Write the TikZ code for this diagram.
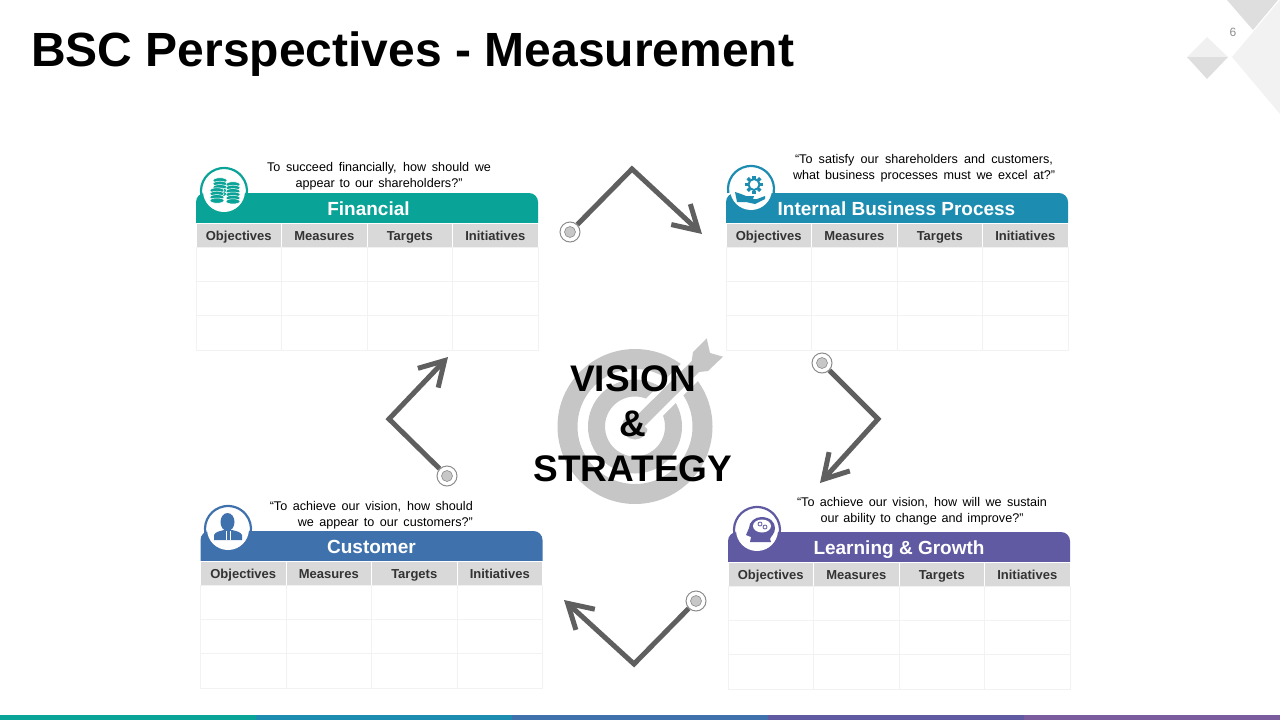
\documentclass[tikz,border=0pt]{standalone}
\usepackage{fontspec}
\setmainfont{Liberation Sans}
\usepackage{tikz}
\usetikzlibrary{arrows.meta, positioning}
\definecolor{finCol}{HTML}{0AA397}
\definecolor{intCol}{HTML}{1C8DB0}
\definecolor{cusCol}{HTML}{3F72AD}
\definecolor{lrnCol}{HTML}{5F5AA2}
\definecolor{vioCol}{HTML}{7A5C9E}
\definecolor{cellGray}{HTML}{D9D9D9}
\definecolor{lineGray}{HTML}{F2F2F2}
\definecolor{arrowGray}{HTML}{5F5F5F}
\definecolor{targetGray}{HTML}{C6C6C6}
\tikzset{%
	title text/.style={anchor=west, inner sep=0pt, font=\bfseries\fontsize{48}{50}\selectfont},
	head cell/.style={fill=cellGray, draw=white, line width=0.8pt, minimum width=85.5pt, minimum height=24pt, inner sep=0pt, text height=12pt, text depth=2pt, text=black!80, font=\bfseries\fontsize{13}{15}\selectfont},
	body cell/.style={draw=lineGray, line width=0.7pt, minimum width=85.5pt, minimum height=34.3pt, inner sep=0pt},
	panel title/.style={text=white, inner sep=0pt, text height=16pt, text depth=2pt, font=\bfseries\fontsize{19}{21}\selectfont},
	quote text/.style={inner sep=0pt, font=\fontsize{12.6}{16}\selectfont},
	vision text/.style={inner sep=0pt, align=center, font=\bfseries\fontsize{37}{45}\selectfont},
	start dot/.style={circle, draw=black!45, fill=white, line width=1pt, minimum size=20pt, inner sep=0pt, path picture={\fill[black!22, draw=black!45, line width=0.6pt] (path picture bounding box.center) circle (5.5pt);}},
	flow arrow/.style={draw=arrowGray, line width=5pt, line join=miter, -{Straight Barb[length=24pt, width=28pt, line width=5pt]}},
}
% one line of a quote, stretched to a given width
\newcommand{\qline}[2]{\makebox[#1pt][s]{#2}}
% name, left, top, colour, title, title centre
\newcommand{\bscpanel}[6]{%
	\fill[#4, rounded corners=9pt] (#2,#3+40) -- (#2,#3) -- (#2+342,#3) -- (#2+342,#3+40) -- cycle;
	\node[panel title] (#1title) at (#6,#3+15) {#5};
	\foreach \col/\txt [count=\i from 0] in {obj/Objectives, mea/Measures, tar/Targets, ini/Initiatives} {
		\node[head cell] (#1\col) at (#2+42.75+\i*85.5,#3+42) {\txt};
		\foreach \row in {0,1,2}
			\node[body cell] (#1\col\row) at (#2+42.75+\i*85.5,#3+71.2+\row*34.3) {};
	}
}
% name, centre x, centre y, colour
\newcommand{\bscbadge}[4]{%
	\draw[#4, line width=2.2pt] (#2,#3) ++(170:23) arc[start angle=170, end angle=370, radius=23];
	\node[circle, fill=white, minimum size=42pt, inner sep=0pt] (#1) at (#2,#3) {};
}
\begin{document}
\begin{tikzpicture}[x=1pt, y=-1pt]
	\useasboundingbox (0,0) rectangle (1280,720);
	
	% corner decoration
	\fill[black!13] (1227,0) -- (1278,0) -- (1253,30) -- cycle;
	\fill[black!5] (1280,0) -- (1232,57) -- (1280,114) -- cycle;
	\fill[black!6] (1187,57) -- (1207,37) -- (1228,57) -- cycle;
	\fill[black!13] (1187,57) -- (1228,57) -- (1207,79) -- cycle;
	\node[inner sep=0pt, text=black!45, font=\fontsize{12}{14}\selectfont] (pagenum) at (1233,32) {6};
	
	\node[title text] (title) at (31,54) {BSC Perspectives - Measurement};
	
	% the four tables
	\bscpanel{fin}{196}{193}{finCol}{Financial}{368.5}
	\bscpanel{int}{726}{193}{intCol}{Internal Business Process}{896.5}
	\bscpanel{cus}{200.5}{531}{cusCol}{Customer}{371.5}
	\bscpanel{lrn}{728}{532}{lrnCol}{Learning \& Growth}{899}
	
	\node[quote text, align=center] (finq) at (379,176.5) {\qline{224}{To succeed financially, how should we}\\\qline{167}{appear to our shareholders?”}};
	\node[quote text, align=center] (intq) at (924,168) {\qline{258}{“To satisfy our shareholders and customers,}\\\qline{262}{what business processes must we excel at?”}};
	\node[quote text, align=right, anchor=east] (cusq) at (473,515.5) {\qline{203}{“To achieve our vision, how should}\\\qline{175}{we appear to our customers?”}};
	\node[quote text, align=center] (lrnq) at (922,511) {\qline{250}{“To achieve our vision, how will we sustain}\\\qline{203}{our ability to change and improve?”}};
	
	% badges with their icons
	\bscbadge{finb}{224}{191}{finCol}
	\bscbadge{intb}{751}{189}{intCol}
	\bscbadge{cusb}{228}{529}{cusCol}
	\bscbadge{lrnb}{757}{530}{lrnCol}
	
	% coins
	\foreach \x/\ytop/\n in {220/177/5, 233/181/6} 
		\foreach \k in {1,...,\n}
			\fill[finCol, draw=white, line width=0.5pt] (\x,\ytop+\k*3.4) ellipse (7 and 2.6);
	\foreach \k in {1,2,3,4}
		\fill[finCol, draw=white, line width=0.5pt] (217,187+\k*3.4) ellipse (7 and 2.6);
	% gear and hand
	\draw[intCol, line width=2pt] (754,184.5) circle (5.5);
	\foreach \a in {0,45,...,315}
		\fill[intCol] (754,184.5) ++(\a:6) ++(\a+90:1.6) -- ++(\a:3) -- ++(\a-90:3.2) -- ++(\a:-3) -- cycle;
	\fill[intCol] (735,192) -- (741,194) -- (746,196) -- (754,196) -- (753,199) -- (757,199) -- (765,196) -- (765,199) -- (755,204) -- (746,202) -- (737,202) -- cycle;
	% person
	\fill[cusCol] (227.5,522) ellipse (7 and 9);
	\fill[cusCol] (214,540) -- (214,535) .. controls (215,532) and (220,531) .. (224,530) -- (232,530) .. controls (236,531) and (241,532) .. (242,535) -- (242,540) -- cycle;
	\draw[white, line width=0.8pt] (226,531) -- (226,540) (230,531) -- (230,540);
	% head
	\fill[lrnCol] (750,542) -- (751,537) -- (746,535) -- (749,528) .. controls (749,522) and (755,517) .. (761,517) .. controls (770,517) and (775,522) .. (775,528) .. controls (775,534) and (771,536) .. (770,539) -- (771,542) -- cycle;
	\fill[white] (762,526) ellipse (9 and 6.5);
	\draw[lrnCol, line width=0.8pt] (760,524) circle (2) (765,527) circle (2);
	
	% target in the centre
	\draw[targetGray, line width=20pt] (635,426.5) circle (67.5);
	\draw[targetGray, line width=17pt] (635,426.5) circle (38.5);
	\fill[targetGray] (635,426.5) circle (13);
	\draw[white, line width=24pt] (640,421.5) -- (712,350);
	\draw[targetGray, line width=13pt] (635,426.5) -- (698,364);
	\fill[targetGray] (690,373) -- (693,352) -- (706.7,338.3) -- (710,353) -- (723,356.7) -- (708,371) -- cycle;
	
	\node[vision text] (vision) at (633,424) {VISION\\\&\\STRATEGY};
	
	% the arrows
	\node[start dot] (s1) at (570,232) {};
	\node[start dot] (s2) at (822,363) {};
	\node[start dot] (s3) at (696,601) {};
	\node[start dot] (s4) at (447,476) {};
	\coordinate (e1) at (702,234);
	\coordinate (e2) at (820,483);
	\coordinate (e3) at (564,600);
	\coordinate (e4) at (448,357);
	\draw[flow arrow] (s1) -- (632,169) -- (e1);
	\draw[flow arrow] (s2) -- (878,419) -- (e2);
	\draw[flow arrow] (s3) -- (634,664) -- (e3);
	\draw[flow arrow] (s4) -- (389,419) -- (e4);
	
	% strip along the bottom
	\foreach \x/\c in {0/finCol, 256/intCol, 512/cusCol, 768/lrnCol, 1024/vioCol}
		\fill[\c] (\x,715) rectangle ++(256,5);
\end{tikzpicture}
\end{document}
